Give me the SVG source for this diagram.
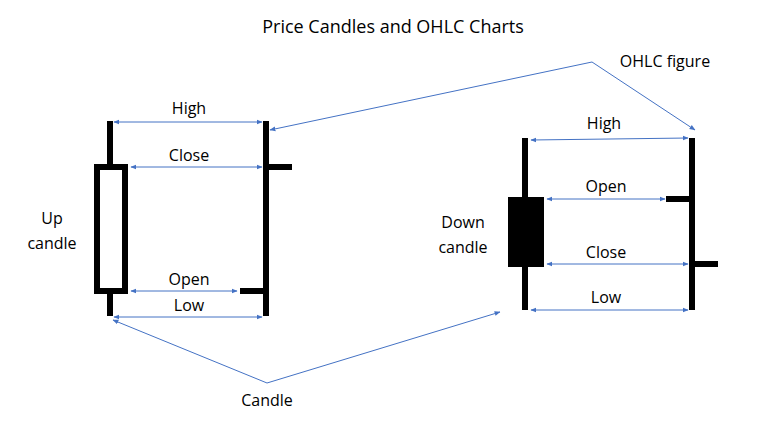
<svg xmlns="http://www.w3.org/2000/svg" width="768" height="430" viewBox="0 0 768 430">
<defs>
<marker id="a" viewBox="0 0 10 10" refX="9" refY="5" markerWidth="6" markerHeight="6" orient="auto-start-reverse"><path d="M0,1 L10,5 L0,9 z" fill="#4472C4"/></marker>
<style>
.t{font-family:"Segoe UI","Open Sans","Liberation Sans",sans-serif;font-size:16px;fill:#000;text-anchor:middle}
.k{stroke:#000;stroke-width:6;fill:none}
.c{stroke:#4472C4;stroke-width:1;fill:none}
</style>
</defs>
<rect width="768" height="430" fill="#fff"/>
<text class="t" x="393" y="33" style="font-size:18px">Price Candles and OHLC Charts</text>
<g id="up-candle">
<line class="k" x1="110" y1="121" x2="110" y2="316"/>
<rect x="97" y="167" width="28" height="124" fill="#fff" stroke="#000" stroke-width="6"/>
<text class="t" x="52" y="224">Up</text><text class="t" x="52" y="249">candle</text>
</g>
<g id="ohlc-left">
<line class="k" x1="266" y1="121" x2="266" y2="316"/>
<line class="k" x1="266" y1="167" x2="292" y2="167"/>
<line class="k" x1="240" y1="291" x2="266" y2="291"/>
</g>
<g id="down-candle">
<line class="k" x1="525" y1="138" x2="525" y2="310"/>
<rect x="508" y="197" width="36" height="70" fill="#000"/>
<text class="t" x="463" y="228">Down</text><text class="t" x="463" y="253">candle</text>
</g>
<g id="ohlc-right">
<line class="k" x1="692" y1="138" x2="692" y2="310"/>
<line class="k" x1="666" y1="199" x2="692" y2="199"/>
<line class="k" x1="692" y1="264" x2="718" y2="264"/>
</g>
<g id="labels">
<text class="t" x="189" y="114">High</text>
<text class="t" x="189" y="161">Close</text>
<text class="t" x="189" y="285">Open</text>
<text class="t" x="189" y="311">Low</text>
<text class="t" x="604" y="129">High</text>
<text class="t" x="606" y="192">Open</text>
<text class="t" x="606" y="258">Close</text>
<text class="t" x="606" y="303">Low</text>
<text class="t" x="665" y="67">OHLC figure</text>
<text class="t" x="267" y="406">Candle</text>
</g>
<g id="connectors">
<line class="c" x1="114" y1="122" x2="262" y2="122" marker-start="url(#a)" marker-end="url(#a)"/>
<line class="c" x1="131" y1="167" x2="262" y2="167" marker-start="url(#a)" marker-end="url(#a)"/>
<line class="c" x1="131" y1="291" x2="237" y2="291" marker-start="url(#a)" marker-end="url(#a)"/>
<line class="c" x1="114" y1="317" x2="262" y2="317" marker-start="url(#a)" marker-end="url(#a)"/>
<line class="c" x1="531" y1="140" x2="688" y2="138" marker-start="url(#a)" marker-end="url(#a)"/>
<line class="c" x1="547" y1="199" x2="665" y2="199" marker-start="url(#a)" marker-end="url(#a)"/>
<line class="c" x1="547" y1="264" x2="688" y2="264" marker-start="url(#a)" marker-end="url(#a)"/>
<line class="c" x1="531" y1="310" x2="688" y2="310" marker-start="url(#a)" marker-end="url(#a)"/>
<line class="c" x1="592" y1="62" x2="270" y2="130" marker-end="url(#a)"/>
<line class="c" x1="592" y1="62" x2="695" y2="130" marker-end="url(#a)"/>
<line class="c" x1="267" y1="383" x2="113" y2="320" marker-end="url(#a)"/>
<line class="c" x1="267" y1="383" x2="500" y2="312" marker-end="url(#a)"/>
</g>
</svg>
